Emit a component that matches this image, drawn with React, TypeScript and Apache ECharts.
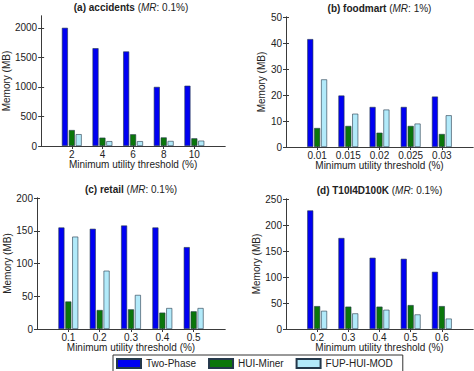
import React, { useEffect, useRef } from "react";
import * as echarts from "echarts";

// ---- data ----
const seriesNames = ["Two-Phase", "HUI-Miner", "FUP-HUI-MOD"];

const accidentsLabels = ["2", "4", "6", "8", "10"];
const accidentsTwoPhase = [2000, 1655, 1600, 1000, 1020];
const accidentsHUIMiner = [270, 141, 198, 145, 130];
const accidentsFUP = [200, 82, 82, 85, 90];

const foodmartLabels = ["0.01", "0.015", "0.02", "0.025", "0.03"];
const foodmartTwoPhase = [41.5, 19.8, 15.4, 15.4, 19.4];
const foodmartHUIMiner = [7.3, 8.1, 5.5, 8.1, 5.0];
const foodmartFUP = [26.0, 12.8, 14.4, 9.0, 12.2];

const retailLabels = ["0.1", "0.2", "0.3", "0.4", "0.5"];
const retailTwoPhase = [155, 153, 158, 155, 125];
const retailHUIMiner = [42, 29, 30, 25, 27];
const retailFUP = [141, 89, 52, 32, 32];

const t10Labels = ["0.2", "0.3", "0.4", "0.5", "0.6"];
const t10TwoPhase = [228, 175, 137, 135, 110];
const t10HUIMiner = [44, 43, 43, 46, 44];
const t10FUP = [35, 30, 37, 28, 20];

const accidentsTicks = [0, 500, 1000, 1500, 2000];
const foodmartTicks = [0, 10, 20, 30, 40, 50];
const retailTicks = [0, 50, 100, 150, 200];
const t10Ticks = [0, 50, 100, 150, 200, 250];

const colors = ["#0000f2", "#0a760a", "#b2eafa"];
const textColor = "#222";
const lineColor = "#3a3a3a";
const font = "Liberation Sans, Arial, sans-serif";

type Panel = {
  title: string;
  name: string;
  mr: string;
  labels: string[];
  values: number[][];
  yTicks: number[];
  yMax: number;
  grid: { left: number; top: number; width: number; height: number };
  yNameGap: number;
};

const panels: Panel[] = [
  {
    title: "(a)",
    name: "accidents",
    mr: "0.1%",
    labels: accidentsLabels,
    values: [accidentsTwoPhase, accidentsHUIMiner, accidentsFUP],
    yTicks: accidentsTicks,
    yMax: 2200,
    grid: { left: 37, top: 16, width: 188, height: 130 },
    yNameGap: 28,
  },
  {
    title: "(b)",
    name: "foodmart",
    mr: "1%",
    labels: foodmartLabels,
    values: [foodmartTwoPhase, foodmartHUIMiner, foodmartFUP],
    yTicks: foodmartTicks,
    yMax: 50,
    grid: { left: 286, top: 17, width: 187, height: 130 },
    yNameGap: 17,
  },
  {
    title: "(c)",
    name: "retail",
    mr: "0.1%",
    labels: retailLabels,
    values: [retailTwoPhase, retailHUIMiner, retailFUP],
    yTicks: retailTicks,
    yMax: 200,
    grid: { left: 37, top: 198, width: 188, height: 131 },
    yNameGap: 22,
  },
  {
    title: "(d)",
    name: "T10I4D100K",
    mr: "0.1%",
    labels: t10Labels,
    values: [t10TwoPhase, t10HUIMiner, t10FUP],
    yTicks: t10Ticks,
    yMax: 250,
    grid: { left: 286, top: 199, width: 187, height: 130 },
    yNameGap: 22,
  },
];

export default function App() {
  const ref = useRef<HTMLDivElement>(null);

  useEffect(() => {
    if (!ref.current) return;
    const chart = echarts.init(ref.current, undefined, { renderer: "svg" });

    const grids: any[] = [];
    const xAxes: any[] = [];
    const yAxes: any[] = [];
    const series: any[] = [];
    const graphics: any[] = [];
    const catPos = [1, 2, 3, 4, 5];

    panels.forEach((p, pi) => {
      grids.push({ ...p.grid, show: false });
      const labels = p.labels;
      xAxes.push({
        type: "value",
        gridIndex: pi,
        min: 0,
        max: 6,
        position: "bottom",
        name: "Minimum utility threshold (%)",
        nameLocation: "middle",
        nameGap: 13,
        nameTextStyle: { fontSize: 10, color: textColor, fontFamily: font },
        axisLine: { show: true, lineStyle: { color: lineColor, width: 1 } },
        axisTick: { show: true, inside: true, length: 3, customValues: catPos, lineStyle: { color: lineColor } },
        axisLabel: {
          show: true,
          customValues: catPos,
          margin: 3,
          fontSize: 10,
          color: textColor,
          fontFamily: font,
          formatter: (v: number) => labels[Math.round(v) - 1] ?? "",
        },
        splitLine: { show: false },
      });
      xAxes.push({
        type: "value",
        gridIndex: pi,
        min: 0,
        max: 6,
        position: "top",
        axisLine: { show: true, lineStyle: { color: lineColor, width: 1 } },
        axisTick: { show: true, inside: true, length: 3, customValues: catPos, lineStyle: { color: lineColor } },
        axisLabel: { show: false },
        splitLine: { show: false },
      });
      yAxes.push({
        type: "value",
        gridIndex: pi,
        min: 0,
        max: p.yMax,
        position: "left",
        name: "Memory (MB)",
        nameLocation: "middle",
        nameRotate: 90,
        nameGap: p.yNameGap,
        nameTextStyle: { fontSize: 10, color: textColor, fontFamily: font },
        axisLine: { show: true, lineStyle: { color: lineColor, width: 1 } },
        axisTick: { show: true, inside: true, length: 3, customValues: p.yTicks, lineStyle: { color: lineColor } },
        axisLabel: {
          show: true,
          customValues: p.yTicks,
          margin: 4,
          fontSize: 10,
          color: textColor,
          fontFamily: font,
          formatter: (v: number) => String(v),
        },
        splitLine: { show: false },
      });
      yAxes.push({
        type: "value",
        gridIndex: pi,
        min: 0,
        max: p.yMax,
        position: "right",
        axisLine: { show: true, lineStyle: { color: lineColor, width: 1 } },
        axisTick: { show: true, inside: true, length: 3, customValues: p.yTicks, lineStyle: { color: lineColor } },
        axisLabel: { show: false },
        splitLine: { show: false },
      });

      p.values.forEach((vals, si) => {
        series.push({
          type: "bar",
          name: seriesNames[si],
          xAxisIndex: pi * 2,
          yAxisIndex: pi * 2,
          data: vals.map((v, i) => [catPos[i], v]),
          barWidth: 6,
          barGap: "15%",
          itemStyle: { color: colors[si], borderColor: "#24384a", borderWidth: 0.6 },
          emphasis: { disabled: true },
        });
      });

      graphics.push({
        type: "text",
        x: p.grid.left + p.grid.width / 2,
        y: p.grid.top - 9,
        style: {
          text: `{b|${p.title} ${p.name}} ({i|MR}: ${p.mr})`,
          align: "center",
          verticalAlign: "middle",
          fontSize: 10,
          fill: textColor,
          fontFamily: font,
          rich: {
            b: { fontWeight: "bold", fontSize: 10, fill: textColor, color: textColor, fontFamily: font },
            i: { fontStyle: "italic", fontSize: 10, fill: textColor, color: textColor, fontFamily: font },
          },
        },
      });
    });

    chart.setOption({
      animation: false,
      backgroundColor: "#ffffff",
      grid: grids,
      xAxis: xAxes,
      yAxis: yAxes,
      series,
      graphic: graphics,
      legend: {
        data: seriesNames,
        left: 113,
        top: 355,
        orient: "horizontal",
        itemWidth: 24,
        itemHeight: 9,
        itemGap: 12,
        padding: [3, 10, 3, 3],
        borderColor: "#333",
        borderWidth: 1,
        backgroundColor: "#fff",
        icon: "rect",
        selectedMode: false,
        textStyle: { fontSize: 10, color: textColor, fontFamily: font },
      },
    });

    return () => chart.dispose();
  }, []);

  return (
    <div
      ref={ref}
      style={{ position: "absolute", left: 0, top: 0, width: 474, height: 371 }}
    />
  );
}
